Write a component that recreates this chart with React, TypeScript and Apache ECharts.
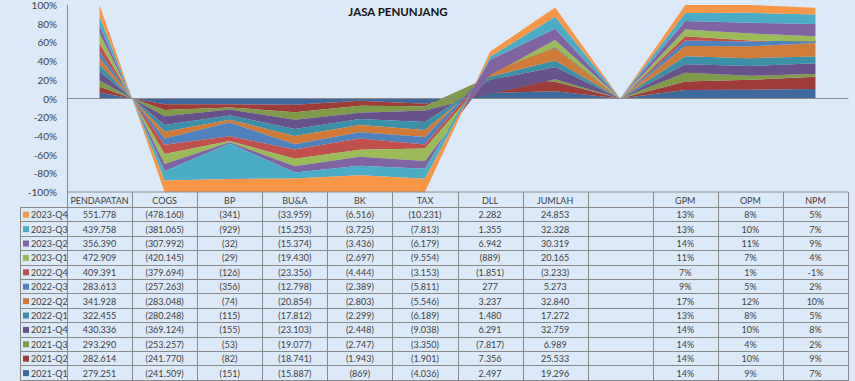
import React, { useEffect, useRef } from "react";
import * as echarts from "echarts";

const categories = ["PENDAPATAN", "COGS", "BP", "BU&A", "BK", "TAX", "DLL", "JUMLAH", "", "GPM", "OPM", "NPM"];
const quarters = ["2021-Q1", "2021-Q2", "2021-Q3", "2021-Q4", "2022-Q1", "2022-Q2", "2022-Q3", "2022-Q4", "2023-Q1", "2023-Q2", "2023-Q3", "2023-Q4"];
const quarterColors = ["#3F6A9E", "#9E3C39", "#7F9A48", "#68528A", "#3B8FA6", "#D07B37", "#4F81BD", "#C0504D", "#9BBB59", "#8064A2", "#4BACC6", "#F79646"];

// values per category, ordered 2021-Q1 ... 2023-Q4
const pendapatan = [279251, 282614, 293290, 430336, 322455, 341928, 283613, 409391, 472909, 356390, 439758, 551778];
const cogs = [-241509, -241770, -253257, -369124, -280248, -283048, -257263, -379694, -420145, -307992, -381065, -478160];
const bp = [-151, -82, -53, -155, -115, -74, -356, -126, -29, -32, -929, -341];
const bua = [-15887, -18741, -19077, -23103, -17812, -20854, -12798, -23356, -19430, -15374, -15253, -33959];
const bk = [-869, -1943, -2747, -2448, -2299, -2803, -2389, -4444, -2697, -3436, -3725, -6516];
const tax = [-4036, -1901, -3350, -9038, -6189, -5546, -5811, -3153, -9554, -6179, -7813, -10231];
const dll = [2497, 7356, -7817, 6291, 1480, 3237, 277, -1851, -889, 6942, 1355, 2282];
const jumlah = [19296, 25533, 6989, 32759, 17272, 32840, 5273, -3233, 20165, 30319, 32328, 24853];
const gpm = [14, 14, 14, 14, 13, 17, 9, 7, 11, 14, 13, 13];
const opm = [9, 10, 4, 10, 8, 12, 5, 1, 7, 11, 10, 8];
const npm = [7, 9, 2, 8, 5, 10, 2, -1, 4, 9, 7, 5];

const columns: (number[] | null)[] = [pendapatan, cogs, bp, bua, bk, tax, dll, jumlah, null, gpm, opm, npm];
const percentColumn = [false, false, false, false, false, false, false, false, false, true, true, true];

function fmtNum(v: number): string {
  const s = Math.abs(v).toString().replace(/\B(?=(\d{3})+(?!\d))/g, ".");
  return v < 0 ? "(" + s + ")" : s;
}

export default function App() {
  const ref = useRef<HTMLDivElement>(null);
  useEffect(() => {
    if (!ref.current) return;
    const chart = echarts.init(ref.current, null, { renderer: "svg" });
    const W = 855;
    const gridLeft = 67;
    const gridRight = 848;
    const gridTop = 4;
    const gridBottom = 192;
    const colW = (gridRight - gridLeft) / categories.length;
    const headerBottom = 207;
    const rowH = 14.4;
    const legendLeft = 20;
    const font = "Lato, 'Noto Sans', sans-serif";
    const lineColor = "#8a8a8a";
    const textColor = "#404040";
    const tableFont = "9px " + font;

    const series = quarters.map((q, qi) => ({
      name: q,
      type: "line",
      stack: "total",
      stackStrategy: "all",
      symbol: "none",
      lineStyle: { width: 0 },
      areaStyle: { color: quarterColors[qi], opacity: 1 },
      itemStyle: { color: quarterColors[qi] },
      data: columns.map((col) => {
        if (!col) return 0;
        const s = col.reduce((a, b) => a + Math.abs(b), 0);
        return s === 0 ? 0 : col[qi] / s;
      }),
    }));

    const graphics: any[] = [];
    graphics.push({ type: "line", shape: { x1: gridLeft, y1: gridBottom, x2: gridRight, y2: gridBottom }, style: { stroke: lineColor, lineWidth: 1 }, z: 20 });
    for (let i = 0; i <= quarters.length; i++) {
      const y = Math.round(headerBottom + i * rowH) + 0.5;
      graphics.push({ type: "line", shape: { x1: legendLeft, y1: y, x2: gridRight, y2: y }, style: { stroke: lineColor, lineWidth: 1 }, z: 20 });
    }
    graphics.push({ type: "line", shape: { x1: legendLeft + 0.5, y1: headerBottom, x2: legendLeft + 0.5, y2: 381 }, style: { stroke: lineColor, lineWidth: 1 }, z: 20 });
    for (let k = 0; k <= categories.length; k++) {
      const x = Math.round(gridLeft + k * colW) + 0.5;
      graphics.push({ type: "line", shape: { x1: x, y1: gridBottom, x2: x, y2: 381 }, style: { stroke: lineColor, lineWidth: 1 }, z: 20 });
    }
    categories.forEach((c, ci) => {
      graphics.push({
        type: "text",
        x: gridLeft + (ci + 0.5) * colW,
        y: (gridBottom + headerBottom) / 2 + 0.5,
        style: { text: c, fill: textColor, font: tableFont, align: "center", verticalAlign: "middle" },
        z: 21,
      });
    });
    const order = quarters.map((_, i) => quarters.length - 1 - i);
    order.forEach((qi, r) => {
      const cy = headerBottom + r * rowH + rowH / 2 + 0.5;
      graphics.push({ type: "rect", shape: { x: 23, y: cy - 3, width: 6, height: 6 }, style: { fill: quarterColors[qi] }, z: 21 });
      graphics.push({
        type: "text",
        x: 31,
        y: cy,
        style: { text: quarters[qi], fill: textColor, font: tableFont, align: "left", verticalAlign: "middle" },
        z: 21,
      });
      columns.forEach((col, ci) => {
        if (!col) return;
        const v = col[qi];
        const t = percentColumn[ci] ? v + "%" : fmtNum(v);
        graphics.push({
          type: "text",
          x: gridLeft + (ci + 0.5) * colW,
          y: cy,
          style: { text: t, fill: textColor, font: tableFont, align: "center", verticalAlign: "middle" },
          z: 21,
        });
      });
    });
    graphics.push({
      type: "text",
      x: 398,
      y: 11,
      style: { text: "JASA PENUNJANG", fill: "#111", font: "bold 11.5px " + font, align: "center", verticalAlign: "middle" },
      z: 21,
    });

    chart.setOption({
      animation: false,
      backgroundColor: "#DCE9F8",
      grid: { left: gridLeft, right: W - gridRight, top: gridTop, bottom: 381 - gridBottom, containLabel: false },
      xAxis: {
        type: "category",
        data: categories,
        boundaryGap: true,
        axisLine: { show: true, onZero: true, lineStyle: { color: lineColor, width: 1 } },
        axisTick: { show: false },
        axisLabel: { show: false },
        z: 10,
      },
      yAxis: {
        type: "value",
        min: -1,
        max: 1,
        interval: 0.2,
        axisLine: { show: true, lineStyle: { color: lineColor, width: 1 } },
        axisTick: { show: false },
        splitLine: { show: false },
        axisLabel: {
          formatter: (v: number) => Math.round(v * 100) + "%",
          color: textColor,
          fontFamily: font,
          fontSize: 10,
          margin: 10,
        },
      },
      series,
      graphic: graphics,
    });
    return () => chart.dispose();
  }, []);
  return <div ref={ref} style={{ position: "fixed", left: 0, top: 0, width: 855, height: 381 }} />;
}
